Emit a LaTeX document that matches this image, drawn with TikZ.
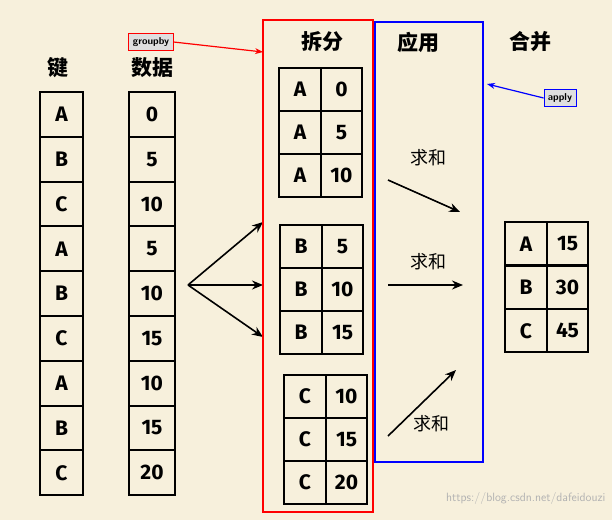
\documentclass[tikz,border=0pt]{standalone}
\usepackage{fontspec}
\setmainfont{Fira Sans}
\newfontfamily\cjk{Noto Sans CJK SC}
\usetikzlibrary{arrows.meta}
\definecolor{paper}{HTML}{F7F0DC}
\begin{document}
\begin{tikzpicture}[x=1pt,y=-1pt,
  cell/.style={draw,line width=1.6pt,minimum width=43pt,minimum height=44.5pt,font=\fontsize{21}{21}\selectfont\bfseries,inner sep=0pt},
  half/.style={draw,line width=1.6pt,minimum width=41.5pt,minimum height=43pt,font=\fontsize{21}{21}\selectfont\bfseries,inner sep=0pt},
  hdr/.style={font=\cjk\fontsize{21}{21}\selectfont\bfseries},
  arr/.style={line width=1.6pt,-{Stealth[length=11pt,width=9pt]}},
  callout/.style={draw,line width=0.8pt,fill=gray!25,font=\sffamily\fontsize{10}{10}\selectfont\bfseries,inner sep=4pt}]
\useasboundingbox (0,0) rectangle (612,520);
\fill[paper] (0,0) rectangle (612,520);
\node[hdr] (hk) at (58,68) {键};
\node[hdr] (hd) at (152,68) {数据};
\foreach \k [count=\i] in {A,B,C,A,B,C,A,B,C} {\node[cell] (k\i) at (61.5,{92+(\i-0.5)*44.8}) {\k};}
\foreach \d [count=\i] in {0,5,10,5,10,15,10,15,20} {\node[cell,minimum width=46pt] (d\i) at (152,{92+(\i-0.5)*44.8}) {\d};}
\coordinate (fan) at (188,285);
\coordinate (ta) at (263,222);\coordinate (tb) at (263,285);\coordinate (tc) at (263,337);
\draw[arr] (fan) -- (ta); \draw[arr] (fan) -- (tb); \draw[arr] (fan) -- (tc);
\draw[red,line width=1.5pt] (263,20) rectangle (373,512);
\draw[blue,line width=1.5pt] (375,22) rectangle (483,462);
\node[hdr] (h1) at (322,42) {拆分};
\node[hdr] (h2) at (418,42) {应用};
\node[hdr] (h3) at (530,42) {合并};
\foreach \gx/\gy/\l/\a/\b/\c/\n in {300/68/A/0/5/10/a, 301/225/B/5/10/15/b, 305/375/C/10/15/20/c} {
  \foreach \v [count=\i] in {\a,\b,\c} {
    \node[half] (\n l\i) at (\gx,{\gy+(\i-0.5)*43}) {\l};
    \node[half] (\n r\i) at ({\gx+41.5},{\gy+(\i-0.5)*43}) {\v};
  }}
\foreach \l/\v [count=\i] in {A/15,B/30,C/45} {
  \node[half] (rl\i) at (526,{222+(\i-0.5)*43.5}) {\l};
  \node[half] (rr\i) at (567.5,{222+(\i-0.5)*43.5}) {\v};}
\coordinate (s1) at (388,180);\coordinate (e1) at (460,212);
\coordinate (s2) at (388,285);\coordinate (e2) at (463,285);
\coordinate (s3) at (388,436);\coordinate (e3) at (456,370);
\draw[arr] (s1) -- (e1); \draw[arr] (s2) -- (e2); \draw[arr] (s3) -- (e3);
\node[font=\cjk\fontsize{18}{18}\selectfont] (t1) at (428,158) {求和};
\node[font=\cjk\fontsize{18}{18}\selectfont] (t2) at (428,262) {求和};
\node[font=\cjk\fontsize{18}{18}\selectfont] (t3) at (431,424) {求和};
\node[callout,draw=red] (gb) at (151,42) {groupby};
\coordinate (gbt) at (263,52);
\draw[red,line width=1.2pt,-{Stealth[length=8pt]}] (gb.east) -- (gbt);
\node[callout,draw=blue] (ap) at (560,98) {apply};
\coordinate (apt) at (487,84);
\draw[blue,line width=1.2pt,-{Stealth[length=8pt]}] (ap.west) -- (apt);
\node[font=\sffamily\fontsize{12}{12}\selectfont,text=gray!60,anchor=east] (wm) at (609,498) {https://blog.csdn.net/dafeidouzi};
\end{tikzpicture}
\end{document}
